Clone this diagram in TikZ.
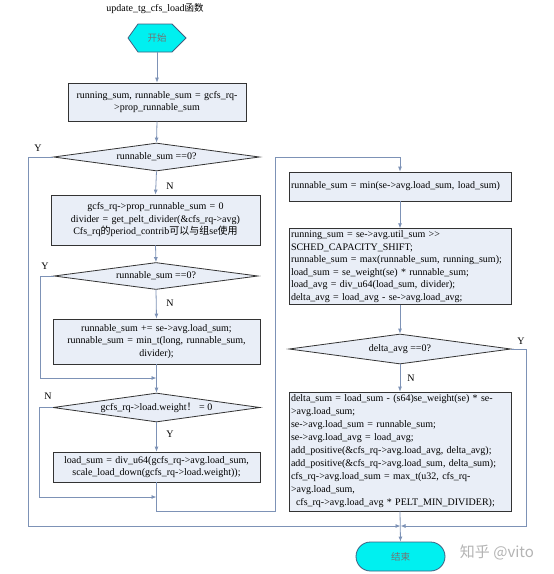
\documentclass[tikz,border=0pt]{standalone}
\usepackage{fontspec}
\setmainfont{Liberation Serif}
\newfontfamily\cjk{Noto Sans CJK SC}
\usetikzlibrary{arrows.meta,shapes.geometric}
\definecolor{boxfill}{HTML}{E9EEF7}
\definecolor{conncol}{HTML}{7D92B6}
\definecolor{edgecol}{HTML}{333333}
\definecolor{cyanfill}{HTML}{00F0F0}
\definecolor{cyanedge}{HTML}{3F5F80}
\definecolor{wmark}{HTML}{B4B4B4}
\begin{document}
\begin{tikzpicture}[x=1pt,y=-1pt,
  font=\fontsize{10}{12.5}\selectfont,
  proc/.style={draw=edgecol, fill=boxfill, line width=0.8pt, inner sep=2pt, align=center},
  lproc/.style={proc, align=left},
  decide/.style={diamond, draw=edgecol, fill=boxfill, line width=0.8pt, inner sep=0pt, shape aspect=7.4},
  term/.style={draw=cyanedge, fill=cyanfill, line width=0.8pt, text=black!55},
  conn/.style={draw=conncol, line width=0.8pt, -{Latex[length=5pt,width=4pt]}},
  line/.style={draw=conncol, line width=0.8pt},
  lab/.style={inner sep=0pt, font=\fontsize{10}{12}\selectfont}
]
\useasboundingbox (0,0) rectangle (554,574);
\fill[white] (0,0) rectangle (554,574);

% title
\node (title) at (155,9) {update\_tg\_cfs\_load{\cjk\fontsize{9.5}{11}\selectfont 函数}};

% start hexagon
\filldraw[draw=cyanedge, fill=cyanfill, line width=0.8pt] (128,38) -- (138,24) -- (172,24) -- (186,38) -- (172,52) -- (138,52) -- cycle;
\node[minimum width=58pt, minimum height=28pt, inner sep=0pt, text=black!55] (start) at (157,38) {\cjk\fontsize{9.5}{11}\selectfont 开始};

% left column
\node[proc, minimum width=178pt, minimum height=38pt, text width=174pt] (box1) at (157,102)
  {running\_sum, runnable\_sum = gcfs\_rq-\\>prop\_runnable\_sum};
\node[decide, minimum width=206pt, minimum height=28pt] (d1) at (156.5,157) {runnable\_sum ==0?};
\node[proc, minimum width=209pt, minimum height=50pt, text width=205pt] (box2) at (155.5,220)
  {gcfs\_rq->prop\_runnable\_sum = 0\\divider = get\_pelt\_divider(\&cfs\_rq->avg)\\Cfs\_rq{\cjk 的}period\_contrib{\cjk 可以与组}se{\cjk 使用}};
\node[decide, minimum width=204pt, minimum height=27pt] (d2) at (156,276) {runnable\_sum ==0?};
\node[proc, minimum width=207pt, minimum height=45pt, text width=203pt] (box3) at (156.5,341.5)
  {runnable\_sum += se->avg.load\_sum;\\runnable\_sum = min\_t(long, runnable\_sum,\\divider);};
\node[decide, minimum width=207pt, minimum height=29pt] (d3) at (156.5,407.5) {gcfs\_rq->load.weight{\cjk ！} = 0};
\node[proc, minimum width=207pt, minimum height=30pt, text width=203pt] (box4) at (156.5,467)
  {load\_sum = div\_u64(gcfs\_rq->avg.load\_sum,\\scale\_load\_down(gcfs\_rq->load.weight));};

% right column
\node[lproc, minimum width=222pt, minimum height=29pt, text width=218pt] (box5) at (400,186.5)
  {runnable\_sum = min(se->avg.load\_sum, load\_sum)};
\node[lproc, minimum width=222pt, minimum height=73pt, text width=218pt] (box6) at (400,266.5)
  {running\_sum = se->avg.util\_sum {>}{>}\\SCHED\_CAPACITY\_SHIFT;\\runnable\_sum = max(runnable\_sum, running\_sum);\\load\_sum = se\_weight(se) * runnable\_sum;\\load\_avg = div\_u64(load\_sum, divider);\\delta\_avg = load\_avg - se->avg.load\_avg;};
\node[decide, minimum width=222pt, minimum height=30pt] (d4) at (400,349) {delta\_avg ==0?};
\node[lproc, minimum width=222pt, minimum height=119pt, text width=218pt, font=\fontsize{10}{13}\selectfont] (box7) at (400,451.5)
  {delta\_sum = load\_sum - (s64)se\_weight(se) * se-\\>avg.load\_sum;\\se->avg.load\_sum = runnable\_sum;\\se->avg.load\_avg = load\_avg;\\add\_positive(\&cfs\_rq->avg.load\_avg, delta\_avg);\\add\_positive(\&cfs\_rq->avg.load\_sum, delta\_sum);\\cfs\_rq->avg.load\_sum = max\_t(u32, cfs\_rq-\\>avg.load\_sum,\\\hspace*{0.5em}cfs\_rq->avg.load\_avg * PELT\_MIN\_DIVIDER);};
\node[term, rounded corners=14.5pt, minimum width=89pt, minimum height=29pt, inner sep=0pt] (end) at (400.5,556.5) {\cjk\fontsize{9.5}{11}\selectfont 结束};

% junction coordinates
\coordinate (j1) at (156.5,378);
\coordinate (j2) at (156.5,497);
\coordinate (jend) at (400.5,526);

% connectors
\draw[conn] (start.south) -- (box1.north);
\draw[conn] (box1.south) -- (d1.north);
\draw[conn] (d1.south) -- (box2.north);
\draw[conn] (d1.west) -- (28,157) -- (28,526) -- (jend);
\draw[conn] (box2.south) -- (d2.north);
\draw[conn] (d2.west) -- (40,276) -- (40,378) -- (j1);
\draw[conn] (d2.south) -- (box3.north);
\draw[conn] (box3.south) -- (d3.north);
\draw[conn] (d3.west) -- (39,407.5) -- (39,497) -- (j2);
\draw[conn] (d3.south) -- (box4.north);
\draw[conn] (box4.south) -- (156.5,511) -- (275,511) -- (275,157) -- (400,157) -- (box5.north);
\draw[conn] (box5.south) -- (box6.north);
\draw[conn] (box6.south) -- (d4.north);
\draw[conn] (d4.south) -- (box7.north);
\draw[conn] (d4.east) -- (526,349) -- (526,526) -- (jend);
\draw[conn] (box7.south) -- (end.north);

% labels
\node[lab] (ly1) at (38,148) {Y};
\node[lab] (ln1) at (170,186) {N};
\node[lab] (ly2) at (45,266) {Y};
\node[lab] (ln2) at (170,303) {N};
\node[lab] (ln3) at (48,396) {N};
\node[lab] (ly3) at (170,434) {Y};
\node[lab] (ly4) at (521,341) {Y};
\node[lab] (ln4) at (411,378) {N};

% watermark
\node[text=wmark, inner sep=0pt] (wm) at (497,552) {\cjk\fontsize{15}{17}\selectfont 知乎 @vito};
\end{tikzpicture}
\end{document}
